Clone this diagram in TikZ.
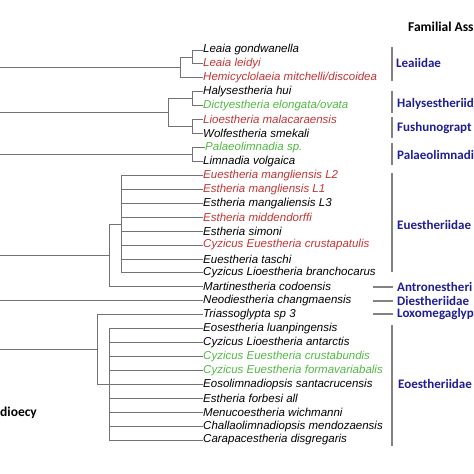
\documentclass[tikz,border=0pt]{standalone}
\usepackage{fontspec}
\setmainfont{Liberation Sans}
\newfontfamily\famfont{Carlito}
\definecolor{tred}{RGB}{196,52,52}
\definecolor{tgreen}{RGB}{80,185,65}
\definecolor{tblue}{RGB}{30,30,150}
\definecolor{tgray}{RGB}{115,115,115}
\definecolor{bargray}{RGB}{130,130,130}
\begin{document}
\begin{tikzpicture}[x=1pt,y=-1pt,
  leaf/.style={anchor=west, inner sep=0pt, font=\fontsize{11.5}{13}\selectfont\itshape},
  fam/.style={anchor=west, inner sep=0pt, text=tblue, font=\famfont\bfseries\fontsize{13}{15}\selectfont},
  hdr/.style={anchor=west, inner sep=0pt, font=\famfont\bfseries\fontsize{13.5}{15}\selectfont},
  br/.style={draw=tgray, line width=0.9pt},
  famline/.style={draw=bargray, line width=2.2pt}]
\useasboundingbox (0,0) rectangle (474,474);
% leaves
\node[leaf] (l1) at (203,50.0) {Leaia gondwanella};
\node[leaf,text=tred] (l2) at (203,63.9) {Leaia leidyi};
\node[leaf,text=tred] (l3) at (203,77.9) {Hemicyclolaeia mitchelli/discoidea};
\node[leaf] (l4) at (203,91.8) {Halysestheria hui};
\node[leaf,text=tgreen] (l5) at (203,105.7) {Dictyestheria elongata/ovata};
\node[leaf,text=tred] (l6) at (203,119.7) {Lioestheria malacaraensis};
\node[leaf] (l7) at (203,133.6) {Wolfestheria smekali};
\node[leaf,text=tgreen] (l8) at (205,147.5) {Palaeolimnadia sp.};
\node[leaf] (l9) at (203,161.4) {Limnadia volgaica};
\node[leaf,text=tred] (l10) at (203,175.4) {Euestheria mangliensis L2};
\node[leaf,text=tred] (l11) at (203,189.3) {Estheria mangliensis L1};
\node[leaf] (l12) at (203,203.2) {Estheria mangaliensis L3};
\node[leaf,text=tred] (l13) at (203,217.2) {Estheria middendorffi};
\node[leaf] (l14) at (203,231.1) {Estheria simoni};
\node[leaf,text=tred] (l15) at (203,245.0) {Cyzicus Euestheria crustapatulis};
\node[leaf] (l16) at (203,259.0) {Euestheria taschi};
\node[leaf] (l17) at (203,272.9) {Cyzicus Lioestheria branchocarus};
\node[leaf] (l18) at (203,286.8) {Martinestheria codoensis};
\node[leaf] (l19) at (203,300.7) {Neodiestheria changmaensis};
\node[leaf] (l20) at (203,314.7) {Triassoglypta sp 3};
\node[leaf] (l21) at (203,328.6) {Eosestheria luanpingensis};
\node[leaf] (l22) at (203,342.5) {Cyzicus Lioestheria antarctis};
\node[leaf,text=tgreen] (l23) at (203,356.5) {Cyzicus Euestheria crustabundis};
\node[leaf,text=tgreen] (l24) at (203,370.4) {Cyzicus Euestheria formavariabalis};
\node[leaf] (l25) at (203,384.3) {Eosolimnadiopsis santacrucensis};
\node[leaf] (l26) at (203,398.3) {Estheria forbesi all};
\node[leaf] (l27) at (203,412.2) {Menucoestheria wichmanni};
\node[leaf] (l28) at (203,426.1) {Challaolimnadiopsis mendozaensis};
\node[leaf] (l29) at (203,440.0) {Carapacestheria disgregaris};
% internal nodes
\coordinate (a1) at (192,57.0);
\coordinate (a2) at (180,67.4);
\coordinate (ra) at (0,67.4);
\coordinate (b1) at (192,98.8);
\coordinate (b2) at (192,126.6);
\coordinate (b3) at (168,112.7);
\coordinate (rb) at (0,112.7);
\coordinate (c1) at (192,154.5);
\coordinate (rc) at (0,154.5);
\coordinate (d1) at (121,224.1);
\coordinate (d2) at (109,255.5);
\coordinate (rd) at (0,255.5);
\coordinate (re) at (0,300.7);
\coordinate (f1) at (109,384.3);
\coordinate (f2) at (97,349.5);
\coordinate (rf) at (0,349.5);
% branches
\draw[br] (a1) |- (l1.west); \draw[br] (a1) |- (l2.west);
\draw[br] (a2) |- (a1); \draw[br] (a2) |- (l3.west);
\draw[br] (ra) -- (a2);
\draw[br] (b1) |- (l4.west); \draw[br] (b1) |- (l5.west);
\draw[br] (b2) |- (l6.west); \draw[br] (b2) |- (l7.west);
\draw[br] (b3) |- (b1); \draw[br] (b3) |- (b2);
\draw[br] (rb) -- (b3);
\draw[br] (c1) |- (l8.west); \draw[br] (c1) |- (l9.west);
\draw[br] (rc) -- (c1);
\foreach \i in {10,...,17} {\draw[br] (d1) |- (l\i.west);}
\draw[br] (d2) |- (d1); \draw[br] (d2) |- (l18.west);
\draw[br] (rd) -- (d2);
\draw[br] (re) -- (l19.west);
\foreach \i in {21,...,29} {\draw[br] (f1) |- (l\i.west);}
\draw[br] (f2) |- (l20.west); \draw[br] (f2) |- (f1);
\draw[br] (rf) -- (f2);
% familial assignment
\node[hdr] (hdr) at (408,27) {Familial Ass};
\node[hdr] (dio) at (0,413) {dioecy};
\node[fam] (fa1) at (396,63) {Leaiidae};
\node[fam] (fa2) at (397,104) {Halysestheriid};
\node[fam] (fa3) at (397,128) {Fushunograpt};
\node[fam] (fa4) at (397,155) {Palaeolimnadi};
\node[fam] (fa5) at (397,225) {Euestheriidae};
\node[fam] (fa6) at (397,287) {Antronestheri};
\node[fam] (fa7) at (397,301) {Diestheriidae};
\node[fam] (fa8) at (397,314) {Loxomegaglyp};
\node[fam] (fa9) at (398,384) {Eoestheriidae};
\draw[famline] (392,47) -- (392,81);
\draw[famline] (392,91) -- (392,113);
\draw[famline] (392,117) -- (392,138);
\draw[famline] (392,143) -- (392,165);
\draw[famline] (392,173) -- (392,272);
\draw[famline] (392,325) -- (392,446);
\draw[famline] (373,287) -- (393,287);
\draw[famline] (373,301) -- (393,301);
\draw[famline] (373,314) -- (393,314);
\end{tikzpicture}
\end{document}
